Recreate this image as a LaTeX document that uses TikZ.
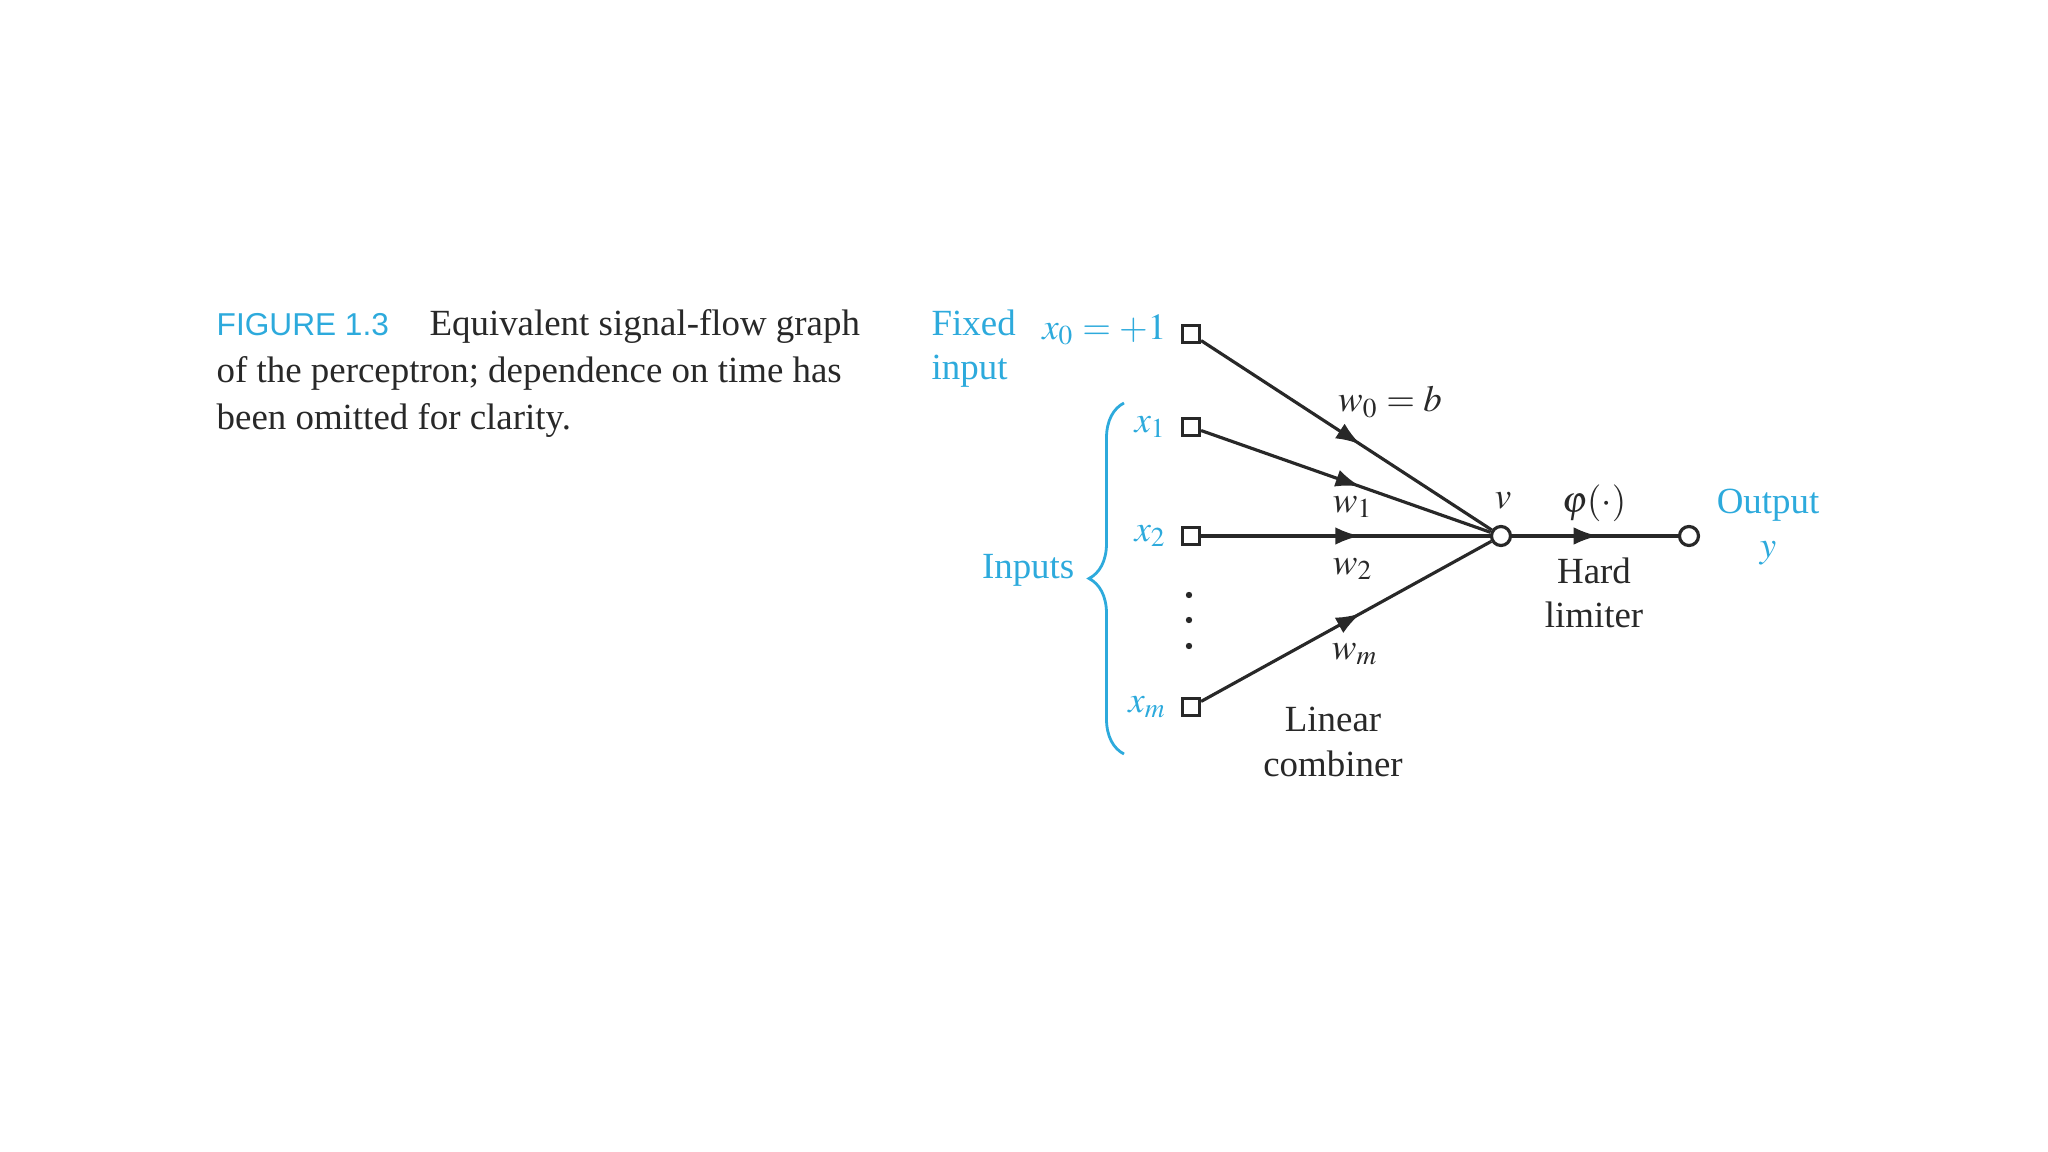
\documentclass[tikz,border=0pt]{standalone}
\usepackage{mathptmx}
\usepackage{fontspec}
\setmainfont{Liberation Serif}
\newfontfamily\capfont{Liberation Sans}
\usetikzlibrary{arrows.meta,decorations.markings,decorations.pathreplacing}
\definecolor{figblue}{RGB}{45,170,220}
\definecolor{inkgray}{RGB}{40,40,40}

\begin{document}
\begin{tikzpicture}[every node/.style={font=\fontsize{10.5}{12.6}\selectfont,text=inkgray,inner sep=0},
    port/.style={draw=inkgray,fill=white,rectangle,minimum size=0.17cm,line width=0.9pt},
    junction/.style={draw=inkgray,fill=white,circle,minimum size=0.19cm,line width=0.9pt},
    flow/.style={draw=inkgray,line width=0.9pt,postaction={decorate},
      decoration={markings,mark=at position #1 with {\arrow{Latex[length=7pt,width=5pt]}}}},
    flow/.default=0.55,
    cyantext/.style={text=figblue}]
        \useasboundingbox (0,0) rectangle (20.48,-11.52);
        % caption
        \node[anchor=north west,align=left,font=\fontsize{10.5}{13.4}\selectfont] (cap) at (2.16,-3.09)
          {{\capfont\color{figblue}\fontsize{9}{13.4}\selectfont FIGURE 1.3}\hspace{1.1em}Equivalent signal-flow graph\\
           of the perceptron; dependence on time has\\been omitted for clarity.};
        % graph
        \node[port] (x0) at (11.91,-3.34) {};
        \node[port] (x1) at (11.91,-4.27) {};
        \node[port] (x2) at (11.91,-5.36) {};
        \node[port] (xm) at (11.91,-7.07) {};
        \node[junction] (v) at (15.01,-5.36) {};
        \node[junction] (y) at (16.89,-5.36) {};
        \draw[flow] (x0) -- (v);
        \draw[flow] (x1) -- (v);
        \draw[flow] (x2) -- (v);
        \draw[flow] (xm) -- (v);
        \draw[flow=0.52] (v) -- (y);
        \foreach \d in {5.95,6.20,6.46} \fill[inkgray] (11.89,-\d) circle (0.032);
        % input side
        \node[cyantext,anchor=north west,align=left] (fixed) at (9.31,-3.09) {Fixed\\input};
        \node[cyantext,anchor=east] (x0lab) at (11.67,-3.30) {$x_0 = +1$};
        \node[cyantext,anchor=east] (x1lab) at (11.67,-4.27) {$x_1$};
        \node[cyantext,anchor=east] (x2lab) at (11.67,-5.36) {$x_2$};
        \node[cyantext,anchor=east] (xmlab) at (11.67,-7.07) {$x_m$};
        \coordinate (braceb) at (11.24,-7.54);
        \coordinate (bracet) at (11.24,-4.03);
        \draw[figblue,line width=0.8pt,decorate,decoration={brace,amplitude=0.35cm}] (braceb) -- (bracet);
        \node[cyantext,anchor=east] (inputs) at (10.75,-5.70) {Inputs};
        % weights and the rest
        \node (w0) at (13.90,-4.02) {$w_0 = b$};
        \node (w1) at (13.53,-5.07) {$w_1$};
        \node (w2) at (13.53,-5.69) {$w_2$};
        \node (wm) at (13.55,-6.54) {$w_m$};
        \node (vlab) at (15.03,-5.01) {$v$};
        \node (phi) at (15.94,-5.03) {$\varphi(\cdot)$};
        \node[align=center] (hard) at (15.94,-5.93) {Hard\\limiter};
        \node[align=center] (lin) at (13.33,-7.42) {Linear\\combiner};
        \node[cyantext,align=center] (out) at (17.68,-5.27) {Output\\$y$};
      \end{tikzpicture}
\end{document}
